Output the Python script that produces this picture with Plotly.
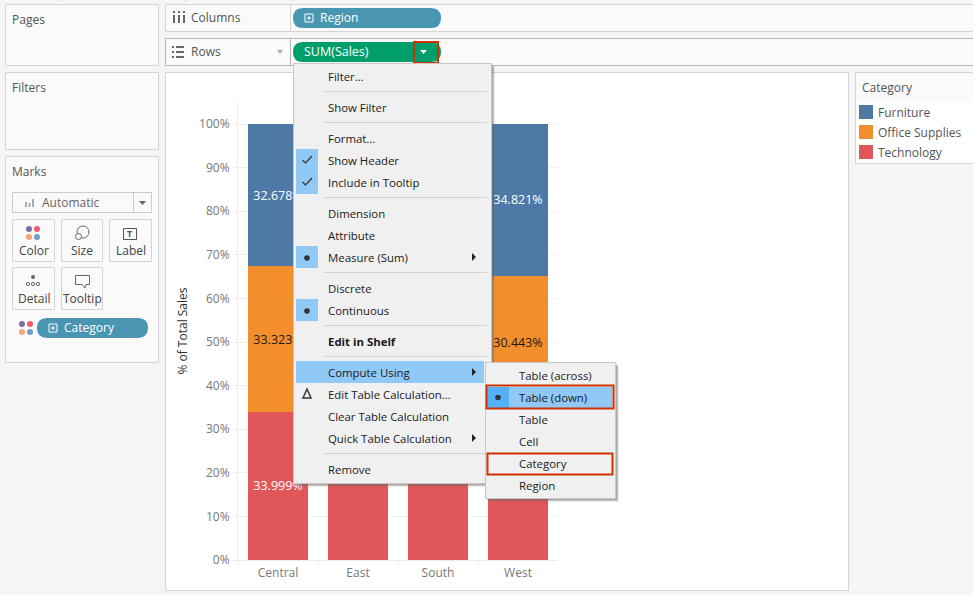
#!/usr/env/python3
# -*- coding: utf-8 -*-
import plotly.graph_objs as go

W, H = 973, 595

# ##
# data
# ##
regions = ['Central', 'East', 'South', 'West']
furniture = [32.678, 30.686, 29.945, 34.821]
office = [33.323, 30.277, 32.077, 30.443]
technology = [33.999, 39.037, 37.979, 34.736]

# only these labels can be seen, the menus hide the rest
furniture_labels = ['32.678%', '', '', '34.821%']
office_labels = ['33.323%', '', '', '30.443%']
technology_labels = ['33.999%', '', '', '']

cat_names = ['Furniture', 'Office Supplies', 'Technology']
cat_colors = ['#4e79a7', '#f28e2b', '#e15759']
cat_text = ['#ffffff', '#1a1a1a', '#ffffff']
y_ticks = [0, 10, 20, 30, 40, 50, 60, 70, 80, 90, 100]
y_tick_labels = ['0%', '10%', '20%', '30%', '40%', '50%', '60%', '70%', '80%', '90%', '100%']

menu_items = [('Filter...', 77), ('Show Filter', 108), ('Format...', 139), ('Show Header', 161),
              ('Include in Tooltip', 183), ('Dimension', 214), ('Attribute', 236), ('Measure (Sum)', 258),
              ('Discrete', 289), ('Continuous', 311), ('Compute Using', 373),
              ('Edit Table Calculation...', 395), ('Clear Table Calculation', 417),
              ('Quick Table Calculation', 439), ('Remove', 470)]
sub_items = [('Table (across)', 376), ('Table (down)', 398), ('Table', 420), ('Cell', 442),
             ('Category', 464), ('Region', 486)]

FONT = 'Open Sans'
BLUE = '#90c8f6'
RED = '#cc3300'
PILL_BLUE = '#4996b2'
PILL_GREEN = '#009e6b'
GREY = '#555555'
MENU_SIZE = 11.4

shapes = []
notes = []


def px(x):
    return x / W


def py(y):
    return 1 - y / H


def rect(x0, y0, x1, y1, fill=None, line=None, width=1, layer='above', opacity=1):
    shapes.append(dict(type='rect', xref='paper', yref='paper', x0=px(x0), x1=px(x1), y0=py(y0), y1=py(y1),
                       fillcolor=fill or 'rgba(0,0,0,0)', line=dict(color=line or 'rgba(0,0,0,0)', width=width if line else 0),
                       layer=layer, opacity=opacity))


def seg(x0, y0, x1, y1, color, width=1, layer='above'):
    shapes.append(dict(type='line', xref='paper', yref='paper', x0=px(x0), x1=px(x1), y0=py(y0), y1=py(y1),
                       line=dict(color=color, width=width), layer=layer))


def dot(x, y, r, fill=None, line=None, width=1):
    shapes.append(dict(type='circle', xref='paper', yref='paper', x0=px(x - r), x1=px(x + r), y0=py(y - r), y1=py(y + r),
                       fillcolor=fill or 'rgba(0,0,0,0)', line=dict(color=line or 'rgba(0,0,0,0)', width=width if line else 0),
                       layer='above'))


def poly(points, fill=None, line=None, width=1, closed=True):
    d = 'M ' + ' L '.join('%f %f' % (px(a), py(b)) for a, b in points) + (' Z' if closed else '')
    shapes.append(dict(type='path', xref='paper', yref='paper', path=d, fillcolor=fill or 'rgba(0,0,0,0)',
                       line=dict(color=line or 'rgba(0,0,0,0)', width=width if line else 0), layer='above'))


def pill(x0, y0, x1, y1, fill):
    r = (y1 - y0) / 2
    d = 'M %f %f L %f %f Q %f %f %f %f Q %f %f %f %f L %f %f Q %f %f %f %f Q %f %f %f %f Z' % (
        px(x0 + r), py(y0), px(x1 - r), py(y0),
        px(x1), py(y0), px(x1), py(y0 + r),
        px(x1), py(y1), px(x1 - r), py(y1),
        px(x0 + r), py(y1),
        px(x0), py(y1), px(x0), py(y0 + r),
        px(x0), py(y0), px(x0 + r), py(y0))
    shapes.append(dict(type='path', xref='paper', yref='paper', path=d, fillcolor=fill, line=dict(width=0), layer='above'))


def label(x, y, txt, size=12, color=GREY, anchor='left', bold=False):
    if bold:
        txt = '<b>' + txt + '</b>'
    notes.append(dict(xref='paper', yref='paper', x=px(x), y=py(y - 0.8), text=txt, showarrow=False, xanchor=anchor,
                      yanchor='middle', borderpad=0, borderwidth=0, font=dict(family=FONT, size=size, color=color)))


def plus_box(x, y):
    rect(x - 4, y - 4, x + 4, y + 4, line='#ffffff', width=1)
    seg(x - 2, y, x + 2, y, '#ffffff')
    seg(x, y - 2, x, y + 2, '#ffffff')


def four_dots(x, y):
    for (a, b, c) in [(0, 0, '#7b6ca5'), (8, 0, '#ee5d6c'), (0, 8, '#f2a675'), (8, 8, '#729ccc')]:
        dot(x + a, y + b, 3, fill=c)


# ##
# panels
# ##
for (x0, y0, x1, y1) in [(5.5, 4.5, 158.5, 65.5), (5.5, 72.5, 158.5, 149.5), (5.5, 156.5, 158.5, 362.5)]:
    rect(x0, y0, x1, y1, fill='#fafafa', line='#d4d4d4', layer='below')
rect(165.5, 4.5, 980, 31.5, fill='#fafafa', line='#d4d4d4', layer='below')
rect(165.5, 38.5, 980, 65.5, fill='#fafafa', line='#b5b5b5', layer='below')
seg(290.5, 4, 290.5, 31, '#d4d4d4', layer='below')
seg(290.5, 38, 290.5, 65, '#b5b5b5', layer='below')
rect(165.5, 72.5, 848.5, 590.5, fill='#ffffff', line='#d4d4d4', layer='below')
rect(855.5, 72.5, 980, 163.5, fill='#fafafa', line='#d4d4d4', layer='below')
rect(856, 102, 980, 163, fill='#ffffff', layer='below')
seg(58.5, 0, 58.5, 2, '#d4d4d4', layer='below')
seg(185.5, 0, 185.5, 2, '#d4d4d4', layer='below')

label(12, 20, 'Pages')
label(12, 88, 'Filters')
label(12, 172, 'Marks')
label(191, 18, 'Columns')
label(191, 52, 'Rows')

# shelf icons
for x in (174, 179, 184):
    seg(x, 15, x, 23, '#666666', 2)
    seg(x, 11, x, 13, '#666666', 2)
for y in (47, 52, 57):
    seg(172, y, 174, y, '#666666', 2)
    seg(176, y, 184, y, '#666666', 2)
poly([(277, 50), (283, 50), (280, 54)], fill='#aaaaaa')

pill(293, 8, 441, 28, PILL_BLUE)
plus_box(309, 18)
label(320, 18, 'Region', color='#ffffff')
pill(293, 42, 441, 62, PILL_GREEN)
label(304, 52, 'SUM(Sales)', size=12.5, color='#ffffff')
poly([(420, 50), (427, 50), (423.5, 54)], fill='#ffffff')
rect(414, 42, 438, 63, line=RED, width=2)

# ##
# marks card
# ##
rect(12.5, 192.5, 151.5, 212.5, fill='#fafafa', line='#cccccc')
seg(133.5, 192, 133.5, 212, '#cccccc')
poly([(139, 201), (146, 201), (142.5, 205)], fill='#666666')
for (x, h) in [(26, 5), (29.5, 4), (33, 8)]:
    seg(x, 207, x, 207 - h, '#aaaaaa', 2)
label(42, 203, 'Automatic', color='#666666')
for (x0, y0, x1, y1, txt) in [(12.5, 219.5, 54.5, 261.5, 'Color'), (61.5, 219.5, 102.5, 261.5, 'Size'),
                              (109.5, 219.5, 151.5, 261.5, 'Label'), (12.5, 267.5, 54.5, 309.5, 'Detail'),
                              (61.5, 267.5, 102.5, 309.5, 'Tooltip')]:
    rect(x0, y0, x1, y1, line='#d4d4d4')
    label((x0 + x1) / 2, y0 + 32, txt, color='#444444', anchor='center')
four_dots(29, 229)
dot(83, 232, 6, line='#666666')
dot(78.5, 236.5, 3, fill='#fafafa', line='#666666')
rect(123.5, 228.5, 136.5, 239.5, line='#555555')
label(130, 234, 'T', size=9, color='#555555', anchor='center', bold=True)
dot(33, 277, 2, fill='#666666')
for x in (28, 33, 38):
    dot(x, 284, 1.6, line='#666666')
poly([(75.5, 275.5), (89.5, 275.5), (89.5, 284.5), (86, 284.5), (85, 288), (82, 284.5), (75.5, 284.5)], line='#666666')
four_dots(22, 324)
pill(37, 318, 148, 338, PILL_BLUE)
plus_box(53, 328)
label(64, 328, 'Category', color='#ffffff')

# ##
# legend
# ##
label(862, 88, 'Category')
for name, color, yy in zip(cat_names, cat_colors, [105, 125, 145]):
    rect(859, yy, 873, yy + 14, fill=color, layer='below')
    label(878, yy + 8, name)

# ##
# menus
# ##
for off, op in [(4, 0.15), (3, 0.25), (2, 0.35)]:
    rect(293.5 + off, 63 + off, 491 + off, 483 + off, fill='#666666', opacity=op)
    rect(485 + off, 362 + off, 615 + off, 498 + off, fill='#666666', opacity=op)
rect(293.5, 63.5, 491.5, 483.5, fill='#f0f0f0', line='#c8c8c8')
for y in (91.5, 122.5, 197.5, 272.5, 325.5, 356.5, 453.5):
    seg(324, y, 487, y, '#d2d2d2')
rect(296, 149, 318, 194, fill=BLUE)
rect(296, 246, 318, 268, fill=BLUE)
rect(296, 299, 318, 321, fill=BLUE)
rect(296, 361, 484, 383, fill=BLUE)
for y in (160, 182):
    poly([(302.5, y), (305.5, y + 3), (312, y - 4)], line='#444444', width=1.5, closed=False)
dot(307, 258, 2.8, fill='#333333')
dot(307, 311, 2.8, fill='#333333')
poly([(303, 398), (307, 389), (311, 398)], line='#333333', width=1.5)
for y in (257, 372, 438):
    poly([(472, y - 4), (476, y), (472, y + 4)], fill='#222222')
for txt, y in menu_items:
    label(328, y, txt, size=MENU_SIZE, color='#1a1a1a')
label(328, 342, 'Edit in Shelf', size=MENU_SIZE, color='#1a1a1a', bold=True)

rect(485.5, 362.5, 615.5, 498.5, fill='#f0f0f0', line='#c8c8c8')
rect(487, 387, 612, 408, fill=BLUE)
rect(487, 387, 509, 408, fill='#55b0fa')
dot(498, 397.5, 2.8, fill='#333333')
for txt, y in sub_items:
    label(519, y, txt, size=MENU_SIZE, color='#1a1a1a')
rect(486.5, 385.5, 613.5, 408.5, line=RED, width=2)
rect(487.5, 453.5, 612.5, 474.5, line=RED, width=2)

# ##
# bars
# ##
fig = go.Figure()
for name, vals, txt, color, tcolor in zip(cat_names[::-1], [technology, office, furniture],
                                          [technology_labels, office_labels, furniture_labels],
                                          cat_colors[::-1], cat_text[::-1]):
    fig.add_trace(go.Bar(x=regions, y=vals, name=name, marker=dict(color=color, line=dict(width=0)), width=0.75,
                         text=txt, textposition='inside', insidetextanchor='middle',
                         textangle=0, constraintext='none',
                         insidetextfont=dict(family=FONT, size=12.5, color=tcolor)))

fig.update_layout(barmode='stack', width=W, height=H, autosize=False, showlegend=False,
                  margin=dict(l=0, r=0, t=0, b=0, pad=0), paper_bgcolor='#f5f5f5', plot_bgcolor='rgba(0,0,0,0)',
                  shapes=shapes, annotations=notes, font=dict(family=FONT, size=12, color='#777777'))
fig.update_xaxes(domain=[238 / W, 558 / W], range=[-0.5, 3.5], tickson='boundaries', ticks='outside', ticklen=4,
                 tickcolor='#ececec', showgrid=False, showline=True, linecolor='#ececec', zeroline=False,
                 automargin=False, ticklabelstandoff=2, tickfont=dict(family=FONT, size=12, color='#777777'), anchor='y')
fig.update_yaxes(domain=[1 - 560 / H, 1 - 102 / H], range=[0, 105.05], tickvals=y_ticks, ticktext=y_tick_labels,
                 ticks='outside', ticklen=5, tickcolor='#f0f0f0', gridcolor='#f0f0f0', showline=True,
                 linecolor='#ececec', zeroline=False, automargin=False,
                 tickfont=dict(family=FONT, size=12, color='#777777'), anchor='x',
                 title=dict(text='% of Total Sales', standoff=8, font=dict(family=FONT, size=12, color='#333333')))

fig.write_html('out.html', config=dict(displayModeBar=False, responsive=False),
               post_script="document.body.style.margin='0';document.body.style.overflow='hidden';")
